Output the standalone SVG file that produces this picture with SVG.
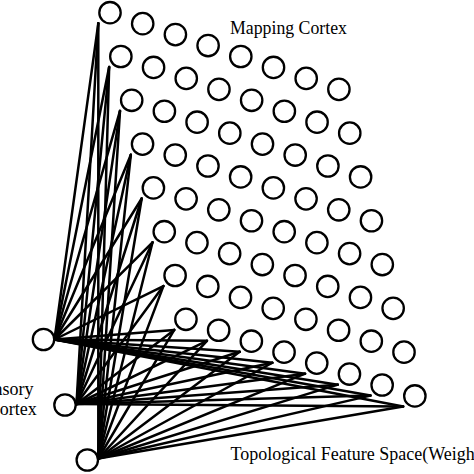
<svg xmlns="http://www.w3.org/2000/svg" width="474" height="474" viewBox="0 0 474 474">
<style>
.n{fill:#fff;stroke:#000;stroke-width:2.3}
.c line{stroke:#000;stroke-width:2.5;stroke-linecap:round}
.t{font-family:"Liberation Serif","Times New Roman",serif;font-size:18px;fill:#000}
</style>
<rect width="474" height="474" fill="#fff"/>
<g id="connectors" class="c">
<line x1="54.5" y1="339.5" x2="98.3" y2="23.3"/>
<line x1="54.5" y1="339.5" x2="109.15" y2="67.1"/>
<line x1="54.5" y1="339.5" x2="120" y2="110.9"/>
<line x1="54.5" y1="339.5" x2="130.85" y2="154.7"/>
<line x1="54.5" y1="339.5" x2="141.7" y2="198.5"/>
<line x1="54.5" y1="339.5" x2="152.55" y2="242.3"/>
<line x1="54.5" y1="339.5" x2="163.4" y2="286.1"/>
<line x1="54.5" y1="339.5" x2="174.25" y2="329.9"/>
<line x1="54.5" y1="339.5" x2="206.95" y2="340.85"/>
<line x1="54.5" y1="339.5" x2="239.65" y2="351.8"/>
<line x1="54.5" y1="339.5" x2="272.35" y2="362.75"/>
<line x1="54.5" y1="339.5" x2="305.05" y2="373.7"/>
<line x1="54.5" y1="339.5" x2="337.75" y2="384.65"/>
<line x1="54.5" y1="339.5" x2="370.45" y2="395.6"/>
<line x1="54.5" y1="339.5" x2="403.15" y2="406.55"/>
<line x1="76.5" y1="404" x2="98.3" y2="23.3"/>
<line x1="76.5" y1="404" x2="109.15" y2="67.1"/>
<line x1="76.5" y1="404" x2="120" y2="110.9"/>
<line x1="76.5" y1="404" x2="130.85" y2="154.7"/>
<line x1="76.5" y1="404" x2="141.7" y2="198.5"/>
<line x1="76.5" y1="404" x2="152.55" y2="242.3"/>
<line x1="76.5" y1="404" x2="163.4" y2="286.1"/>
<line x1="76.5" y1="404" x2="174.25" y2="329.9"/>
<line x1="76.5" y1="404" x2="206.95" y2="340.85"/>
<line x1="76.5" y1="404" x2="239.65" y2="351.8"/>
<line x1="76.5" y1="404" x2="272.35" y2="362.75"/>
<line x1="76.5" y1="404" x2="305.05" y2="373.7"/>
<line x1="76.5" y1="404" x2="337.75" y2="384.65"/>
<line x1="76.5" y1="404" x2="370.45" y2="395.6"/>
<line x1="76.5" y1="404" x2="403.15" y2="406.55"/>
<line x1="98.3" y1="458.5" x2="98.3" y2="23.3"/>
<line x1="98.3" y1="458.5" x2="109.15" y2="67.1"/>
<line x1="98.3" y1="458.5" x2="120" y2="110.9"/>
<line x1="98.3" y1="458.5" x2="130.85" y2="154.7"/>
<line x1="98.3" y1="458.5" x2="141.7" y2="198.5"/>
<line x1="98.3" y1="458.5" x2="152.55" y2="242.3"/>
<line x1="98.3" y1="458.5" x2="163.4" y2="286.1"/>
<line x1="98.3" y1="458.5" x2="174.25" y2="329.9"/>
<line x1="98.3" y1="458.5" x2="206.95" y2="340.85"/>
<line x1="98.3" y1="458.5" x2="239.65" y2="351.8"/>
<line x1="98.3" y1="458.5" x2="272.35" y2="362.75"/>
<line x1="98.3" y1="458.5" x2="305.05" y2="373.7"/>
<line x1="98.3" y1="458.5" x2="337.75" y2="384.65"/>
<line x1="98.3" y1="458.5" x2="370.45" y2="395.6"/>
<line x1="98.3" y1="458.5" x2="403.15" y2="406.55"/>
</g>
<g id="input-nodes">
<g id="s1"><circle class="n" cx="43.5" cy="339.5" r="10.7"/></g>
<g id="s2"><circle class="n" cx="65" cy="405" r="10.7"/></g>
<g id="s3"><circle class="n" cx="87.3" cy="460" r="10.7"/></g>
</g>
<g id="mapping-nodes">
<g id="m0-0"><circle class="n" cx="110" cy="12.7" r="10.7"/></g>
<g id="m0-1"><circle class="n" cx="142.7" cy="23.65" r="10.7"/></g>
<g id="m0-2"><circle class="n" cx="175.4" cy="34.6" r="10.7"/></g>
<g id="m0-3"><circle class="n" cx="208.1" cy="45.55" r="10.7"/></g>
<g id="m0-4"><circle class="n" cx="240.8" cy="56.5" r="10.7"/></g>
<g id="m0-5"><circle class="n" cx="273.5" cy="67.45" r="10.7"/></g>
<g id="m0-6"><circle class="n" cx="306.2" cy="78.4" r="10.7"/></g>
<g id="m0-7"><circle class="n" cx="338.9" cy="89.35" r="10.7"/></g>
<g id="m1-0"><circle class="n" cx="120.85" cy="56.5" r="10.7"/></g>
<g id="m1-1"><circle class="n" cx="153.55" cy="67.45" r="10.7"/></g>
<g id="m1-2"><circle class="n" cx="186.25" cy="78.4" r="10.7"/></g>
<g id="m1-3"><circle class="n" cx="218.95" cy="89.35" r="10.7"/></g>
<g id="m1-4"><circle class="n" cx="251.65" cy="100.3" r="10.7"/></g>
<g id="m1-5"><circle class="n" cx="284.35" cy="111.25" r="10.7"/></g>
<g id="m1-6"><circle class="n" cx="317.05" cy="122.2" r="10.7"/></g>
<g id="m1-7"><circle class="n" cx="349.75" cy="133.15" r="10.7"/></g>
<g id="m2-0"><circle class="n" cx="131.7" cy="100.3" r="10.7"/></g>
<g id="m2-1"><circle class="n" cx="164.4" cy="111.25" r="10.7"/></g>
<g id="m2-2"><circle class="n" cx="197.1" cy="122.2" r="10.7"/></g>
<g id="m2-3"><circle class="n" cx="229.8" cy="133.15" r="10.7"/></g>
<g id="m2-4"><circle class="n" cx="262.5" cy="144.1" r="10.7"/></g>
<g id="m2-5"><circle class="n" cx="295.2" cy="155.05" r="10.7"/></g>
<g id="m2-6"><circle class="n" cx="327.9" cy="166" r="10.7"/></g>
<g id="m2-7"><circle class="n" cx="360.6" cy="176.95" r="10.7"/></g>
<g id="m3-0"><circle class="n" cx="142.55" cy="144.1" r="10.7"/></g>
<g id="m3-1"><circle class="n" cx="175.25" cy="155.05" r="10.7"/></g>
<g id="m3-2"><circle class="n" cx="207.95" cy="166" r="10.7"/></g>
<g id="m3-3"><circle class="n" cx="240.65" cy="176.95" r="10.7"/></g>
<g id="m3-4"><circle class="n" cx="273.35" cy="187.9" r="10.7"/></g>
<g id="m3-5"><circle class="n" cx="306.05" cy="198.85" r="10.7"/></g>
<g id="m3-6"><circle class="n" cx="338.75" cy="209.8" r="10.7"/></g>
<g id="m3-7"><circle class="n" cx="371.45" cy="220.75" r="10.7"/></g>
<g id="m4-0"><circle class="n" cx="153.4" cy="187.9" r="10.7"/></g>
<g id="m4-1"><circle class="n" cx="186.1" cy="198.85" r="10.7"/></g>
<g id="m4-2"><circle class="n" cx="218.8" cy="209.8" r="10.7"/></g>
<g id="m4-3"><circle class="n" cx="251.5" cy="220.75" r="10.7"/></g>
<g id="m4-4"><circle class="n" cx="284.2" cy="231.7" r="10.7"/></g>
<g id="m4-5"><circle class="n" cx="316.9" cy="242.65" r="10.7"/></g>
<g id="m4-6"><circle class="n" cx="349.6" cy="253.6" r="10.7"/></g>
<g id="m4-7"><circle class="n" cx="382.3" cy="264.55" r="10.7"/></g>
<g id="m5-0"><circle class="n" cx="164.25" cy="231.7" r="10.7"/></g>
<g id="m5-1"><circle class="n" cx="196.95" cy="242.65" r="10.7"/></g>
<g id="m5-2"><circle class="n" cx="229.65" cy="253.6" r="10.7"/></g>
<g id="m5-3"><circle class="n" cx="262.35" cy="264.55" r="10.7"/></g>
<g id="m5-4"><circle class="n" cx="295.05" cy="275.5" r="10.7"/></g>
<g id="m5-5"><circle class="n" cx="327.75" cy="286.45" r="10.7"/></g>
<g id="m5-6"><circle class="n" cx="360.45" cy="297.4" r="10.7"/></g>
<g id="m5-7"><circle class="n" cx="393.15" cy="308.35" r="10.7"/></g>
<g id="m6-0"><circle class="n" cx="175.1" cy="275.5" r="10.7"/></g>
<g id="m6-1"><circle class="n" cx="207.8" cy="286.45" r="10.7"/></g>
<g id="m6-2"><circle class="n" cx="240.5" cy="297.4" r="10.7"/></g>
<g id="m6-3"><circle class="n" cx="273.2" cy="308.35" r="10.7"/></g>
<g id="m6-4"><circle class="n" cx="305.9" cy="319.3" r="10.7"/></g>
<g id="m6-5"><circle class="n" cx="338.6" cy="330.25" r="10.7"/></g>
<g id="m6-6"><circle class="n" cx="371.3" cy="341.2" r="10.7"/></g>
<g id="m6-7"><circle class="n" cx="404" cy="352.15" r="10.7"/></g>
<g id="m7-0"><circle class="n" cx="185.95" cy="319.3" r="10.7"/></g>
<g id="m7-1"><circle class="n" cx="218.65" cy="330.25" r="10.7"/></g>
<g id="m7-2"><circle class="n" cx="251.35" cy="341.2" r="10.7"/></g>
<g id="m7-3"><circle class="n" cx="284.05" cy="352.15" r="10.7"/></g>
<g id="m7-4"><circle class="n" cx="316.75" cy="363.1" r="10.7"/></g>
<g id="m7-5"><circle class="n" cx="349.45" cy="374.05" r="10.7"/></g>
<g id="m7-6"><circle class="n" cx="382.15" cy="385" r="10.7"/></g>
<g id="m7-7"><circle class="n" cx="414.85" cy="395.95" r="10.7"/></g>
</g>
<g id="labels">
<text class="t" x="230" y="34" textLength="117" lengthAdjust="spacingAndGlyphs">Mapping Cortex</text>
<text class="t" x="230.5" y="460">Topological Feature Space(Weights)</text>
<text class="t" x="33.5" y="395" text-anchor="end">Sensory</text>
<text class="t" x="36.7" y="415" text-anchor="end">Cortex</text>
</g>
</svg>
